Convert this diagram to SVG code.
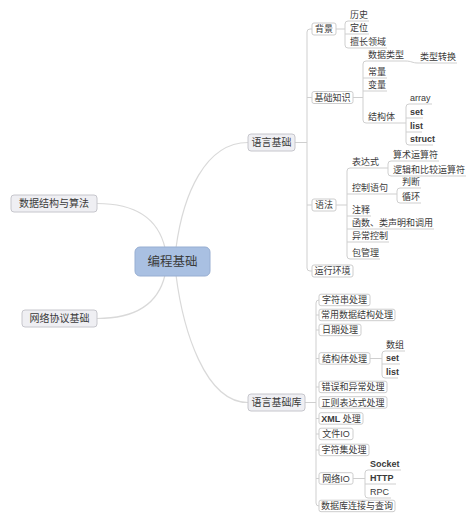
<svg xmlns="http://www.w3.org/2000/svg" width="474" height="522" viewBox="0 0 474 522">
<style>
text{font-family:"Liberation Sans","Noto Sans CJK SC",sans-serif;fill:#3a3a3a;font-size:9px}
.c{text-anchor:middle}
.b{font-weight:bold}
.ln{fill:none;stroke:#cfcfcf;stroke-width:1}
.cv{fill:none;stroke:#d9d9d9;stroke-width:1.2}
.l1{fill:#efeff3;stroke:#c6c6cc;stroke-width:1}
.l2{fill:#ffffff;stroke:#cdcdcd;stroke-width:1}
.t1{font-size:10px}
</style>
<rect width="474" height="522" fill="#ffffff"/>
<g id="connectors">
  <path class="cv" d="M165,248 C158,218 135,203.5 97,203.5"/>
  <path class="cv" d="M165,275 C158,305 135,318.5 97,318.5"/>
  <path class="cv" d="M176,248 C183,195 205,142.5 248,142.5"/>
  <path class="cv" d="M176,275 C183,330 205,402.5 248,402.5"/>
  <!-- 语言基础 -->
  <path class="ln" d="M295,142.5 H307"/>
  <path class="ln" d="M312,29 H310 Q307,29 307,32 V268 Q307,271 310,271 H312"/>
  <path class="ln" d="M307,97.5 H312 M307,205 H312"/>
  <!-- 背景 -->
  <path class="ln" d="M336,29 H345"/>
  <path class="ln" d="M369,21 H348 Q345,21 345,24 V45 Q345,48 348,48 H387"/>
  <path class="ln" d="M345,34 H369"/>
  <!-- 基础知识 -->
  <path class="ln" d="M353,97.5 H363"/>
  <path class="ln" d="M405,61 H366 Q363,61 363,64 V120 Q363,123 366,123 H397"/>
  <path class="ln" d="M363,78 H387 M363,91 H387"/>
  <path class="ln" d="M405,61 C412,61 412,63 418,63 H457"/>
  <!-- 结构体 -->
  <path class="ln" d="M397,123 H406"/>
  <path class="ln" d="M432,104 H409 Q406,104 406,107 V142 Q406,145 409,145 H433"/>
  <path class="ln" d="M406,118 H423 M406,132 H422"/>
  <!-- 语法 -->
  <path class="ln" d="M336,205 H347"/>
  <path class="ln" d="M380,168 H350 Q347,168 347,171 V256 Q347,259 350,259 H380"/>
  <path class="ln" d="M347,194 H389 M347,216 H371 M347,229 H434 M347,242 H389"/>
  <path class="ln" d="M380,168 H388"/>
  <path class="ln" d="M439,161 H391 Q388,161 388,164 V173 Q388,176 391,176 H466"/>
  <path class="ln" d="M389,194 H397"/>
  <path class="ln" d="M421,188 H400 Q397,188 397,191 V200 Q397,203 400,203 H421"/>
  <!-- 语言基础库 -->
  <path class="ln" d="M305,402.5 H316"/>
  <path class="ln" d="M319,300 Q316,300 316,303 V503 Q316,506 319,506"/>
  <path class="ln" d="M316,315 H319 M316,330 H319 M316,358.5 H319 M316,387 H319 M316,418.5 H319 M316,434 H319 M316,450 H319 M316,478.5 H319"/>
  <!-- 结构体处理 -->
  <path class="ln" d="M370,358.5 H382"/>
  <path class="ln" d="M405,351 H385 Q382,351 382,354 V375 Q382,378 385,378 H398"/>
  <path class="ln" d="M382,364 H400"/>
  <!-- 网络IO -->
  <path class="ln" d="M353,478.5 H365"/>
  <path class="ln" d="M401,470 H368 Q365,470 365,473 V495 Q365,498 368,498 H391"/>
  <path class="ln" d="M365,484 H396"/>
</g>
<g id="root">
  <rect x="135" y="247" width="75" height="29" rx="5" fill="#a9c0e2" stroke="#97aed2"/>
  <text class="c" x="172.5" y="266" style="font-size:12.5px">编程基础</text>
</g>
<g id="n-dsa"><rect class="l1" x="11" y="195" width="86" height="17" rx="3"/><text class="c t1" x="54" y="207">数据结构与算法</text></g>
<g id="n-net"><rect class="l1" x="22" y="310" width="75" height="17" rx="3"/><text class="c t1" x="59.5" y="322">网络协议基础</text></g>
<g id="n-lang"><rect class="l1" x="248" y="134" width="47" height="17" rx="3"/><text class="c t1" x="271.5" y="146">语言基础</text></g>
<g id="n-lib"><rect class="l1" x="248" y="394" width="57" height="17" rx="3"/><text class="c t1" x="276.5" y="406">语言基础库</text></g>

<g id="n-bg"><rect class="l2" x="312" y="23" width="24" height="12" rx="2"/><text class="c" x="324" y="32.3">背景</text></g>
<g id="n-ls"><text x="350" y="18.3">历史</text></g>
<g id="n-dw"><text x="350" y="31.3">定位</text></g>
<g id="n-sc"><text x="350" y="45.3">擅长领域</text></g>

<g id="n-basic"><rect class="l2" x="312" y="91.5" width="41" height="12" rx="2"/><text class="c" x="332.5" y="100.8">基础知识</text></g>
<g id="n-type"><text x="368" y="58.3">数据类型</text></g>
<g id="n-conv"><text x="420" y="60.3">类型转换</text></g>
<g id="n-const"><text x="368" y="75.3">常量</text></g>
<g id="n-var"><text x="368" y="88.3">变量</text></g>
<g id="n-struct"><text x="368" y="120.3">结构体</text></g>
<g id="n-array"><text x="410" y="101.3">array</text></g>
<g id="n-set"><text class="b" x="410" y="115.3">set</text></g>
<g id="n-list"><text class="b" x="410" y="129.3">list</text></g>
<g id="n-structk"><text class="b" x="410" y="142.3">struct</text></g>

<g id="n-syntax"><rect class="l2" x="312" y="199" width="24" height="12" rx="2"/><text class="c" x="324" y="208.3">语法</text></g>
<g id="n-expr"><text x="352" y="165.3">表达式</text></g>
<g id="n-arith"><text x="393" y="158.3">算术运算符</text></g>
<g id="n-logic"><text x="393" y="173.3">逻辑和比较运算符</text></g>
<g id="n-ctrl"><text x="352" y="191.3">控制语句</text></g>
<g id="n-if"><text x="402" y="185.3">判断</text></g>
<g id="n-loop"><text x="402" y="200.3">循环</text></g>
<g id="n-comment"><text x="352" y="213.3">注释</text></g>
<g id="n-func"><text x="352" y="226.3">函数、类声明和调用</text></g>
<g id="n-exc"><text x="352" y="239.3">异常控制</text></g>
<g id="n-pkg"><text x="352" y="256.3">包管理</text></g>
<g id="n-env"><rect class="l2" x="312" y="265" width="41" height="12" rx="2"/><text class="c" x="332.5" y="274.3">运行环境</text></g>

<g id="n-str"><rect class="l2" x="319" y="294.2" width="51" height="11.5" rx="2"/><text class="c" x="344.5" y="303.2">字符串处理</text></g>
<g id="n-ds"><rect class="l2" x="319" y="309.2" width="76" height="11.5" rx="2"/><text class="c" x="357" y="318.2">常用数据结构处理</text></g>
<g id="n-date"><rect class="l2" x="319" y="324.2" width="42" height="11.5" rx="2"/><text class="c" x="340" y="333.2">日期处理</text></g>
<g id="n-sp"><rect class="l2" x="319" y="352.7" width="51" height="11.5" rx="2"/><text class="c" x="344.5" y="361.7">结构体处理</text></g>
<g id="n-arr"><text x="386" y="348.3">数组</text></g>
<g id="n-set2"><text class="b" x="386" y="361.3">set</text></g>
<g id="n-list2"><text class="b" x="386" y="375.3">list</text></g>
<g id="n-err"><rect class="l2" x="319" y="381.2" width="68" height="11.5" rx="2"/><text class="c" x="353" y="390.2">错误和异常处理</text></g>
<g id="n-re"><rect class="l2" x="319" y="396.7" width="68" height="11.5" rx="2"/><text class="c" x="353" y="405.7">正则表达式处理</text></g>
<g id="n-xml"><rect class="l2" x="319" y="412.7" width="44" height="11.5" rx="2"/><text class="c" x="341" y="421.7"><tspan class="b">XML</tspan> 处理</text></g>
<g id="n-file"><rect class="l2" x="319" y="428.2" width="34" height="11.5" rx="2"/><text class="c" x="336" y="437.2">文件IO</text></g>
<g id="n-cs"><rect class="l2" x="319" y="444.2" width="50" height="11.5" rx="2"/><text class="c" x="344" y="453.2">字符集处理</text></g>
<g id="n-nio"><rect class="l2" x="319" y="472.7" width="34" height="11.5" rx="2"/><text class="c" x="336" y="481.7">网络IO</text></g>
<g id="n-socket"><text class="b" x="370" y="467.3">Socket</text></g>
<g id="n-http"><text class="b" x="370" y="481.3">HTTP</text></g>
<g id="n-rpc"><text x="370" y="495.3">RPC</text></g>
<g id="n-db"><rect class="l2" x="319" y="500.2" width="76" height="11.5" rx="2"/><text class="c" x="357" y="509.2">数据库连接与查询</text></g>
</svg>
